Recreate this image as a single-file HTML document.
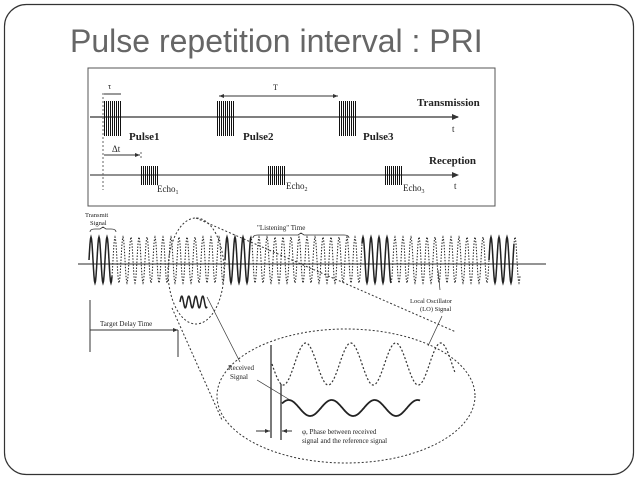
<!DOCTYPE html>
<html><head><meta charset="utf-8"><style>
body{margin:0;width:638px;height:479px;background:#fff;overflow:hidden}
svg{position:absolute;left:0;top:0}
text{font-family:"Liberation Serif",serif;fill:#222}
</style></head><body>
<svg id="s" width="638" height="479" viewBox="0 0 638 479">
<rect x="4.5" y="4.5" width="629" height="470" rx="22" fill="#fff" stroke="#333" stroke-width="1.2"/>
<text x="70" y="52" style="font-family:'Liberation Sans',sans-serif;font-size:32px;fill:#666">Pulse repetition interval : PRI</text>
<rect x="88" y="68" width="407" height="138" fill="#fff" stroke="#555" stroke-width="1"/>
<line x1="90" y1="117" x2="458" y2="117" stroke="#555" stroke-width="1.5"/>
<path d="M452,114 L459,117 L452,120Z" fill="#333"/>
<line x1="90" y1="175" x2="458" y2="175" stroke="#222" stroke-width="1"/>
<path d="M452,172 L459,175 L452,178Z" fill="#333"/>
<line x1="103" y1="93" x2="103" y2="190" stroke="#666" stroke-dasharray="2,2"/>
<g id="pulses"></g>
<line x1="104" y1="94" x2="121" y2="94" stroke="#333"/><text x="108" y="89" font-size="8">τ</text>
<line x1="219" y1="96" x2="338" y2="96" stroke="#333"/><path d="M219,96 l5,-2 v4z M338,96 l-5,-2 v4z" fill="#333"/>
<text x="273" y="90" font-size="8">T</text>
<line x1="104" y1="155" x2="140" y2="155" stroke="#333"/><path d="M140,155 l-5,-2 v4z" fill="#333"/>
<line x1="141" y1="152" x2="141" y2="160" stroke="#666" stroke-dasharray="2,2"/>
<text x="112" y="152" font-size="9">Δt</text>
<text x="129" y="140" font-size="11" font-weight="bold">Pulse1</text>
<text x="243" y="140" font-size="11" font-weight="bold">Pulse2</text>
<text x="363" y="140" font-size="11" font-weight="bold">Pulse3</text>
<text x="417" y="106" font-size="11" font-weight="bold">Transmission</text>
<text x="429" y="164" font-size="11" font-weight="bold">Reception</text>
<text x="452" y="132" font-size="9">t</text>
<text x="454" y="189" font-size="9">t</text>
<text x="157" y="192" font-size="9">Echo<tspan font-size="6" dy="2">1</tspan></text>
<text x="286" y="189" font-size="9">Echo<tspan font-size="6" dy="2">2</tspan></text>
<text x="403" y="191" font-size="9">Echo<tspan font-size="6" dy="2">3</tspan></text>
<line x1="78" y1="264" x2="546" y2="264" stroke="#555" stroke-width="1.3"/>
<g id="wave"></g>
<text x="85" y="217" font-size="6.5">Transmit</text><text x="90" y="225" font-size="6.5">Signal</text>
<path d="M90,232 q0,-3 5,-3 h5 l3,-2 l3,2 h5 q5,0 5,3" fill="none" stroke="#333" stroke-width=".8"/>
<text x="257" y="230" font-size="7">"Listening" Time</text>
<path d="M253,238 q0,-3 5,-3 h40 l3,-2 l3,2 h40 q5,0 5,3" fill="none" stroke="#333" stroke-width=".8"/>
<ellipse cx="196" cy="271" rx="28" ry="53" fill="none" stroke="#333" stroke-dasharray="2,2"/>
<ellipse cx="346" cy="396" rx="129" ry="67" fill="none" stroke="#333" stroke-dasharray="2,2"/>
<line x1="196" y1="218" x2="456" y2="332" stroke="#333" stroke-dasharray="2,2"/>
<line x1="172" y1="308" x2="222" y2="420" stroke="#333" stroke-dasharray="2,2"/>
<path id="rx" fill="none" stroke="#222" stroke-width="1.5"/>
<line x1="90" y1="300" x2="90" y2="352" stroke="#333"/>
<line x1="178" y1="330" x2="178" y2="357" stroke="#333"/>
<line x1="90" y1="330" x2="178" y2="330" stroke="#333"/><path d="M178,330 l-5,-2 v4z" fill="#333"/>
<text x="100" y="326" font-size="7">Target Delay Time</text>
<text x="410" y="303" font-size="6.5">Local Oscillator</text>
<text x="420" y="311" font-size="6.5">(LO) Signal</text>
<line x1="440" y1="290" x2="438" y2="270" stroke="#333" stroke-width=".7"/>
<line x1="442" y1="316" x2="428" y2="346" stroke="#333" stroke-width=".7"/>
<text x="228" y="370" font-size="7">Received</text><text x="230" y="379" font-size="7">Signal</text>
<line x1="240" y1="362" x2="207" y2="297" stroke="#333" stroke-width=".7"/>
<line x1="257" y1="380" x2="290" y2="400" stroke="#333" stroke-width=".7"/>
<line x1="271" y1="345" x2="271" y2="438" stroke="#333" stroke-width="1.3"/>
<line x1="281" y1="384" x2="281" y2="440" stroke="#333" stroke-width="1.3"/>
<line x1="256" y1="431" x2="270" y2="431" stroke="#333"/><path d="M270,431 l-5,-2 v4z" fill="#333"/>
<line x1="282" y1="431" x2="292" y2="431" stroke="#333"/><path d="M282,431 l5,-2 v4z" fill="#333"/>
<text x="302" y="434" font-size="7">φ, Phase between received</text>
<text x="302" y="443" font-size="7">signal and the reference signal</text>
<path id="lo" fill="none" stroke="#333" stroke-width="1.2" stroke-dasharray="2,2"/>
<path id="rs" fill="none" stroke="#222" stroke-width="1.8"/>
</svg>
<script>
var ns="http://www.w3.org/2000/svg";
function burst(x,y0,y1,g){for(var i=0;i<9;i++){var l=document.createElementNS(ns,"line");l.setAttribute("x1",x+i*2+0.5);l.setAttribute("x2",x+i*2+0.5);l.setAttribute("y1",y0);l.setAttribute("y2",y1);l.setAttribute("stroke","#111");l.setAttribute("stroke-width","1");g.appendChild(l);}}
var g=document.getElementById("pulses");
[104,217,339].forEach(function(x){burst(x,101,136,g)});
[141,268,385].forEach(function(x){burst(x,166,185,g)});
function sine(x0,x1,cy,a,per,ph){var d="";for(var x=x0;x<=x1;x+=0.5){var y=cy-a*Math.sin((x-x0)/per*2*Math.PI+(ph||0));d+=(d?"L":"M")+x.toFixed(1)+","+y.toFixed(1);}return d;}
var w=document.getElementById("wave");
var solids=[[89,112],[225,251],[362,391],[489,514]];
function add(d,dash,sw){var p=document.createElementNS(ns,"path");p.setAttribute("d",d);p.setAttribute("fill","none");p.setAttribute("stroke","#222");p.setAttribute("stroke-width",sw);if(dash)p.setAttribute("stroke-dasharray","1.5,1.5");w.appendChild(p);}
add(sine(89,520,260,23,8),true,1);
solids.forEach(function(s){add(sine(s[0],s[1],260,23,8,2*Math.PI*(s[0]-89)/8),false,1.5)});
document.getElementById("rx").setAttribute("d",sine(180,207,302,6,7));
document.getElementById("lo").setAttribute("d",sine(272,455,364,21,45,Math.PI));
document.getElementById("rs").setAttribute("d",sine(282,420,408,8,43,0.6));
</script>
</body></html>
